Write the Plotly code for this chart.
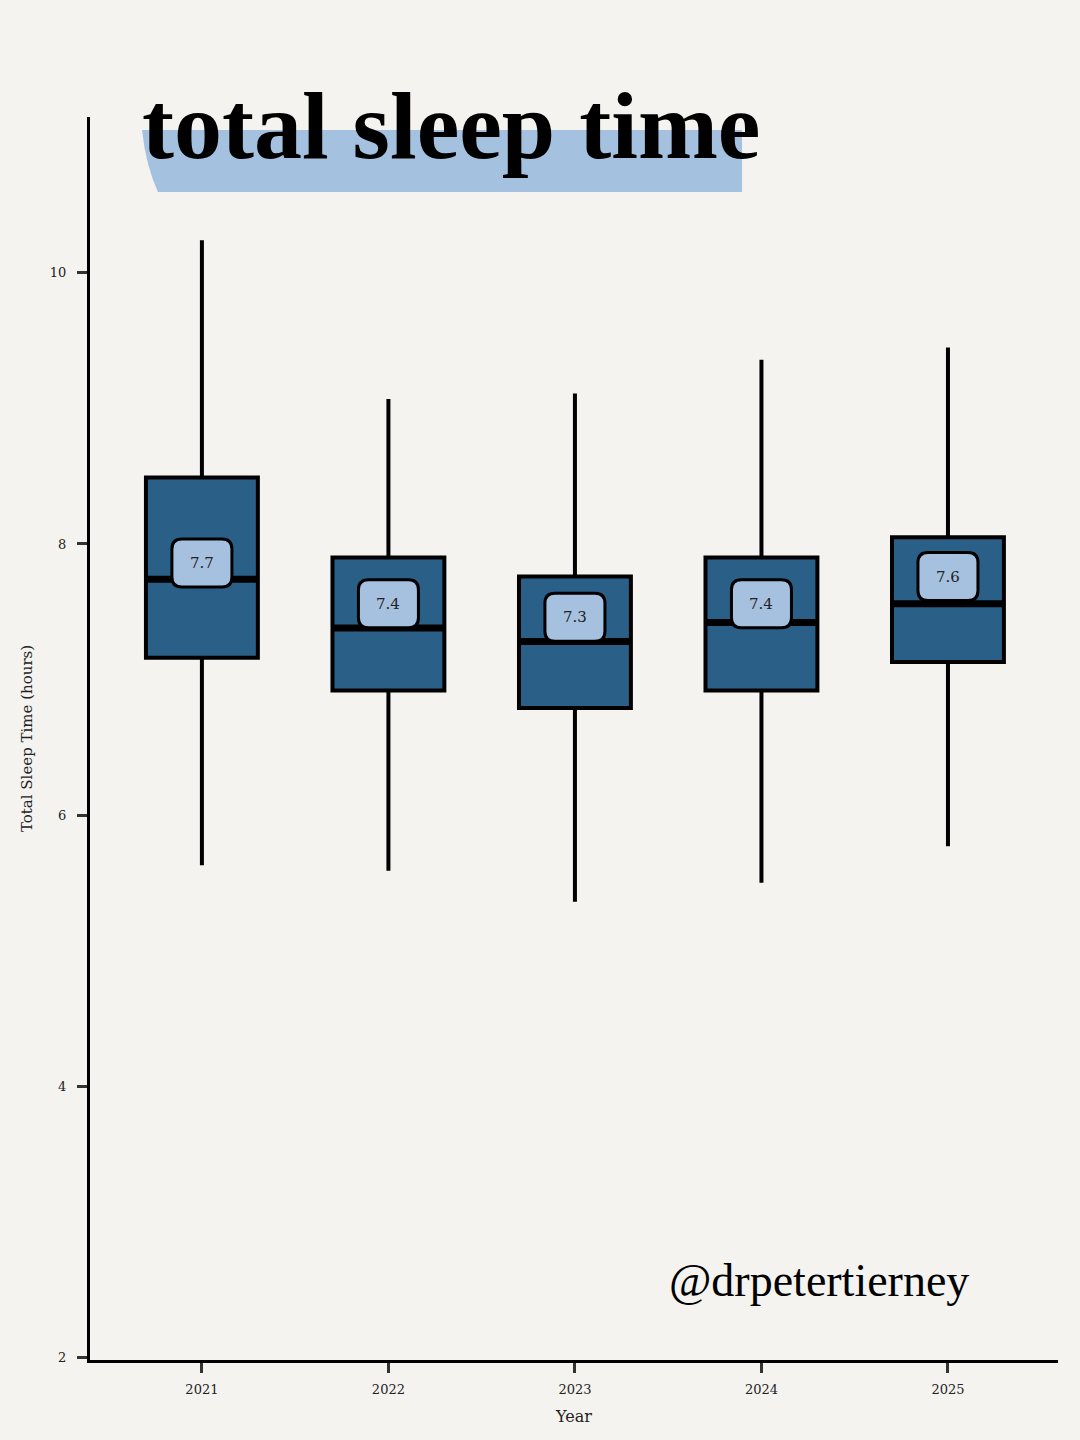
import plotly.graph_objects as go

# ---- data ----
years = ["2021", "2022", "2023", "2024", "2025"]
q1 = [7.16, 6.92, 6.79, 6.92, 7.13]
median = [7.74, 7.38, 7.28, 7.42, 7.56]
q3 = [8.49, 7.90, 7.76, 7.90, 8.05]
lower_whisker = [5.63, 5.59, 5.36, 5.50, 5.77]
upper_whisker = [10.24, 9.07, 9.11, 9.36, 9.45]
means = [7.7, 7.4, 7.3, 7.4, 7.6]
y_ticks = [2, 4, 6, 8, 10]

BG = "#f4f3ef"
BOX_FILL = "#2a5f87"
LIGHT = "#a6c1df"
SERIF = "DejaVu Serif"

xpos = list(range(len(years)))
BOX_W = 0.6

fig = go.Figure()
fig.add_trace(go.Box(
    x=xpos, q1=q1, median=median, q3=q3,
    lowerfence=lower_whisker, upperfence=upper_whisker,
    width=BOX_W, whiskerwidth=0,
    fillcolor=BOX_FILL, line=dict(color="black", width=4),
    boxpoints=False, hoverinfo="skip", showlegend=False,
))

# thick median lines
mx, my = [], []
for i, m in zip(xpos, median):
    mx += [i - BOX_W / 2, i + BOX_W / 2, None]
    my += [m, m, None]
fig.add_trace(go.Scatter(x=mx, y=my, mode="lines",
                         line=dict(color="black", width=7),
                         hoverinfo="skip", showlegend=False))

# rounded label boxes
LABEL_OFFSET = 0.16
w2, h2, r = 30, 24, 10
rounded = (f"M {-w2 + r},{-h2} L {w2 - r},{-h2} Q {w2},{-h2} {w2},{-h2 + r} "
           f"L {w2},{h2 - r} Q {w2},{h2} {w2 - r},{h2} L {-w2 + r},{h2} "
           f"Q {-w2},{h2} {-w2},{h2 - r} L {-w2},{-h2 + r} Q {-w2},{-h2} {-w2 + r},{-h2} Z")
shapes = []
annotations = []
for i, mu in zip(xpos, means):
    shapes.append(dict(type="path", xref="x", yref="y",
                       xsizemode="pixel", ysizemode="pixel",
                       xanchor=i, yanchor=mu + LABEL_OFFSET,
                       path=rounded, fillcolor=LIGHT,
                       line=dict(color="black", width=3), layer="above"))
    annotations.append(dict(x=i, y=mu + LABEL_OFFSET, xref="x", yref="y",
                            text=f"{mu:.1f}", showarrow=False,
                            font=dict(family=SERIF, size=15, color="#222")))

# title highlight
shapes.append(dict(type="path", xref="paper", yref="paper",
                   path="M 0.0537,0.9895 L 0.6736,0.9895 L 0.6736,0.9397 L 0.0702,0.9397 Q 0.058,0.96 0.0537,0.9895 Z",
                   fillcolor="#a5c1e0", line=dict(width=0), layer="above"))

annotations.append(dict(x=0.0517, y=0.993, xref="paper", yref="paper",
                        xanchor="left", yanchor="middle",
                        text="<b>total sleep time</b>", showarrow=False,
                        font=dict(family="Liberation Serif", size=96, color="black")))
annotations.append(dict(x=0.7536, y=0.0636, xref="paper", yref="paper",
                        xanchor="center", yanchor="middle",
                        text="@drpetertierney", showarrow=False,
                        font=dict(family="Liberation Serif", size=46, color="black")))

fig.update_layout(
    width=1080, height=1440,
    margin=dict(l=90, r=22, t=117, b=80),
    paper_bgcolor=BG, plot_bgcolor=BG,
    shapes=shapes, annotations=annotations,
    font=dict(family=SERIF, color="#222"),
    xaxis=dict(range=[-0.6, 4.59], tickvals=xpos, ticktext=years,
               showgrid=False, zeroline=False,
               showline=True, linecolor="black", linewidth=3,
               ticks="outside", ticklen=10, tickwidth=3, tickcolor="#333",
               ticklabelstandoff=5,
               tickfont=dict(family=SERIF, size=13, color="#222"),
               title=dict(text="Year", font=dict(family=SERIF, size=16, color="#222"), standoff=16)),
    yaxis=dict(range=[1.98, 11.15], tickvals=y_ticks,
               showgrid=False, zeroline=False,
               showline=True, linecolor="black", linewidth=3,
               ticks="outside", ticklen=10, tickwidth=3, tickcolor="#333",
               ticklabelstandoff=8,
               tickfont=dict(family=SERIF, size=13, color="#222"),
               title=dict(text="Total Sleep Time (hours)", font=dict(family=SERIF, size=15, color="#222"), standoff=14)),
)

fig.write_html("out.html")
